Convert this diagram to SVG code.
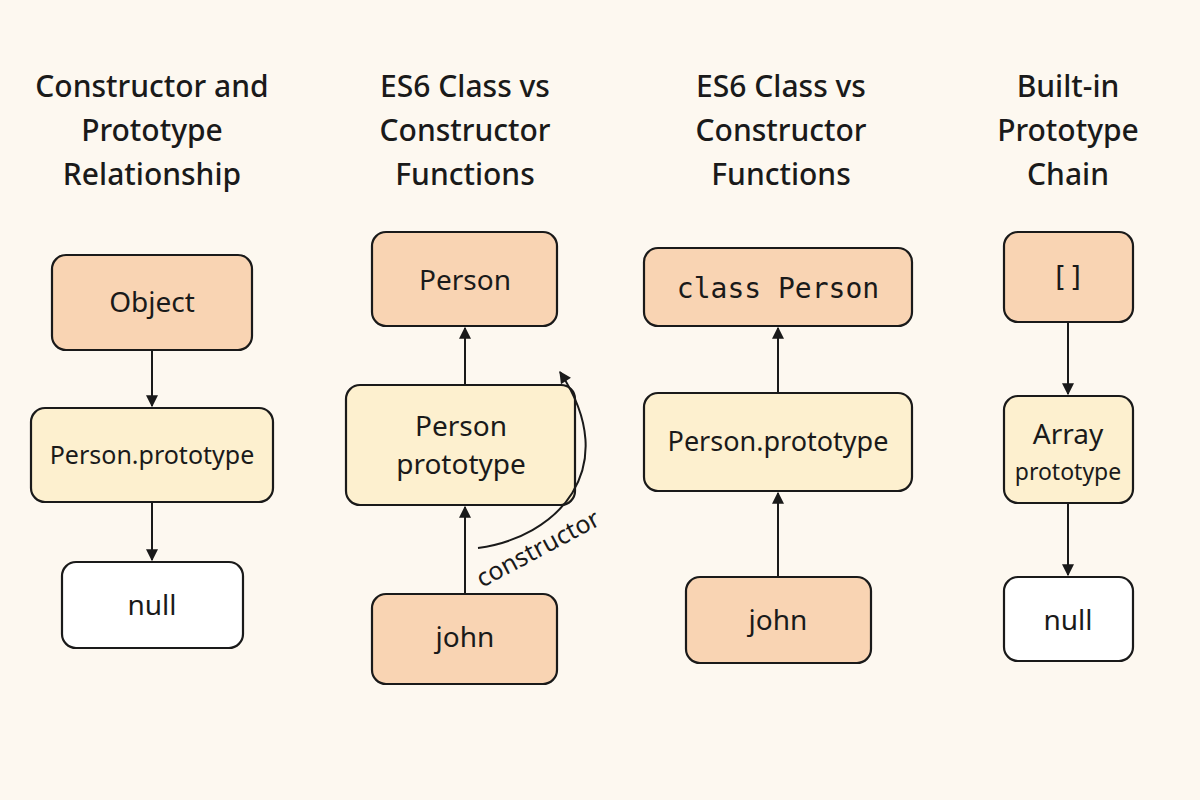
<svg xmlns="http://www.w3.org/2000/svg" width="1200" height="800" viewBox="0 0 1200 800">
<defs>
<marker id="ah" viewBox="0 0 10 10" refX="9" refY="5" markerWidth="13" markerHeight="12" orient="auto-start-reverse" markerUnits="userSpaceOnUse"><path d="M0,0 L10,5 L0,10 z" fill="#1a1a1a"/></marker>
<style>
text{font-family:"Noto Sans","Open Sans",sans-serif;fill:#1a1a1a;text-anchor:middle}
.t{font-size:30px;font-weight:500}
.n{font-size:28px}
.m{font-family:"DejaVu Sans Mono","Liberation Mono",monospace;font-size:28px}
rect{stroke:#1a1a1a;stroke-width:2.2}
.o{fill:#f9d4b3}.y{fill:#fdf0cf}.w{fill:#ffffff}
.c path,.c line{stroke:#1a1a1a;stroke-width:2;fill:none}
</style>
</defs>
<rect x="0" y="0" width="1200" height="800" fill="#fdf8f0" style="stroke:none"/>
<g id="titles">
<text class="t" x="152" y="97">Constructor and</text><text class="t" x="152" y="141">Prototype</text><text class="t" x="152" y="185">Relationship</text>
<text class="t" x="465" y="97">ES6 Class vs</text><text class="t" x="465" y="141">Constructor</text><text class="t" x="465" y="185">Functions</text>
<text class="t" x="781" y="97">ES6 Class vs</text><text class="t" x="781" y="141">Constructor</text><text class="t" x="781" y="185">Functions</text>
<text class="t" x="1068" y="97">Built-in</text><text class="t" x="1068" y="141">Prototype</text><text class="t" x="1068" y="185">Chain</text>
</g>
<g id="object"><rect class="o" x="52" y="255" width="200" height="95" rx="14"/><text class="n" x="152" y="312">Object</text></g>
<g id="personproto1"><rect class="y" x="31" y="408" width="242" height="94" rx="14"/><text x="152" y="464" style="font-size:25px">Person.prototype</text></g>
<g id="null1"><rect class="w" x="62" y="562" width="181" height="86" rx="14"/><text class="n" x="152" y="615">null</text></g>
<g id="person2"><rect class="o" x="372" y="232" width="185" height="94" rx="14"/><text class="n" x="465" y="290">Person</text></g>
<g id="personproto2"><rect class="y" x="346" y="385" width="229" height="120" rx="14"/><text class="n" x="461" y="436">Person</text><text class="n" x="461" y="474">prototype</text></g>
<g id="john2"><rect class="o" x="372" y="594" width="185" height="90" rx="14"/><text class="n" x="465" y="647">john</text></g>
<g id="classperson"><rect class="o" x="644" y="248" width="268" height="78" rx="14"/><text class="m" x="778" y="298">class Person</text></g>
<g id="personproto3"><rect class="y" x="644" y="393" width="268" height="98" rx="14"/><text x="778" y="451" style="font-size:27px">Person.prototype</text></g>
<g id="john3"><rect class="o" x="686" y="577" width="185" height="86" rx="14"/><text class="n" x="778" y="630">john</text></g>
<g id="arr"><rect class="o" x="1004" y="232" width="129" height="90" rx="14"/><text class="m" x="1068" y="287">[]</text></g>
<g id="arrayproto"><rect class="y" x="1004" y="396" width="129" height="107" rx="14"/><text class="n" x="1068" y="444">Array</text><text x="1068" y="480" style="font-size:23px">prototype</text></g>
<g id="null4"><rect class="w" x="1004" y="577" width="129" height="84" rx="14"/><text class="n" x="1068" y="630">null</text></g>
<g id="connectors" class="c">
<line x1="152" y1="350" x2="152" y2="406" marker-end="url(#ah)"/>
<line x1="152" y1="502" x2="152" y2="560" marker-end="url(#ah)"/>
<line x1="465" y1="385" x2="465" y2="328" marker-end="url(#ah)"/>
<line x1="465" y1="594" x2="465" y2="507" marker-end="url(#ah)"/>
<path d="M478,548 C555,538 625,470 560,372" marker-end="url(#ah)"/>
<line x1="778" y1="393" x2="778" y2="328" marker-end="url(#ah)"/>
<line x1="778" y1="577" x2="778" y2="493" marker-end="url(#ah)"/>
<line x1="1068" y1="322" x2="1068" y2="394" marker-end="url(#ah)"/>
<line x1="1068" y1="503" x2="1068" y2="575" marker-end="url(#ah)"/>
</g>
<text x="542" y="556" transform="rotate(-28 542 556)" style="font-size:25px">constructor</text>
</svg>
